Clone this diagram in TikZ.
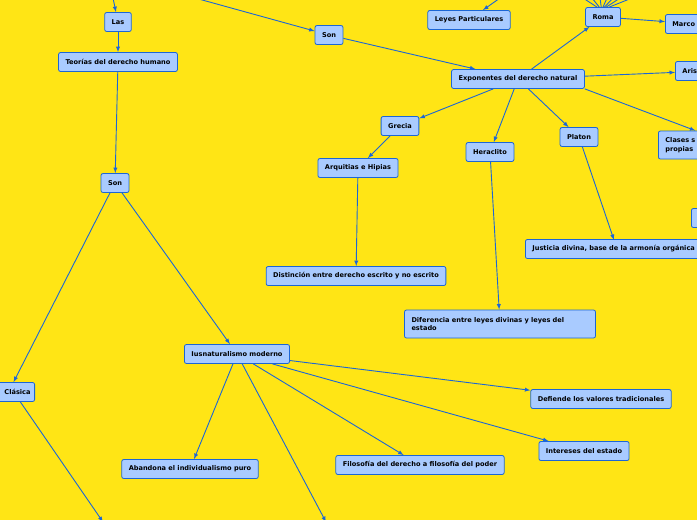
\documentclass[tikz,border=0pt]{standalone}
\usepackage{fontspec}
\setmainfont{DejaVu Sans}
\usetikzlibrary{calc}
\definecolor{bg}{HTML}{FFE515}
\definecolor{bfill}{HTML}{A9CBFF}
\definecolor{bline}{HTML}{1C66D6}
\begin{document}
\begin{tikzpicture}[x=1pt,y=-1pt,
 box/.style={draw=bline,fill=bfill,rounded corners=2pt,line width=0.8pt,font=\bfseries\fontsize{6.6}{8.5}\selectfont,inner xsep=7pt,inner ysep=4pt,minimum height=19pt},
 conn/.style={draw=bline,line width=0.9pt,-latex}]
\useasboundingbox (0,0) rectangle (697,520);
\clip (0,0) rectangle (697,520);
\fill[bg] (0,0) rectangle (697,520);
\node[box] (las) at (118,22) {Las};
\node[box] (teo) at (118,62) {Teorías del derecho humano};
\node[box] (son1) at (329,35) {Son};
\node[box] (leyes) at (469,20) {Leyes Particulares};
\node[box] (roma) at (603,17) {Roma};
\node[box,anchor=west,text width=50pt,align=left] (marco) at (665,24) {Marco};
\node[box] (expo) at (518,79) {Exponentes del derecho natural};
\node[box,anchor=west,text width=50pt,align=left] (aris) at (675,71) {Aris};
\node[box] (grecia) at (400,126) {Grecia};
\node[box] (arq) at (358,168) {Arquitias e Hipias};
\node[box] (hera) at (490,152) {Heraclito};
\node[box] (platon) at (579,137) {Platon};
\node[box,anchor=west,align=left,text width=60pt,minimum height=28pt] (clases) at (658,145) {Clases s\\propias};
\node[box,anchor=west,minimum width=30pt] (extra) at (691,218) {};
\node[box,anchor=west] (just) at (525,249) {Justicia divina, base de la armonía orgánica};
\node[box] (dist) at (356,276) {Distinción entre derecho escrito y no escrito};
\node[box,align=left,text width=177pt,minimum height=28pt] (dif) at (500,324) {Diferencia entre leyes divinas y leyes del\\estado};
\node[box] (son2) at (115,183) {Son};
\node[box] (ius) at (237,354) {Iusnaturalismo moderno};
\node[box,anchor=east,inner xsep=4pt] (clas) at (35,392) {\hspace{8pt}Clásica};
\node[box] (def) at (601,399) {Defiende los valores tradicionales};
\node[box] (int) at (584,451) {Intereses del estado};
\node[box] (filo) at (420,465) {Filosofía del derecho a filosofía del poder};
\node[box] (aban) at (190,469) {Abandona el individualismo puro};
\coordinate (t1) at (113,-2); \coordinate (t2) at (195,-2); \coordinate (t3) at (500,-2);
\coordinate (b1) at (103,522); \coordinate (b2) at (326,522);
\draw[conn] (t1) -- (las);
\draw[conn] (t2) -- (son1);
\draw[conn] (t3) -- (leyes);
\draw[conn] (las) -- (teo);
\draw[conn] (teo) -- (son2);
\draw[conn] (son1) -- (expo);
\foreach \x in {583,592,600,607,613,620,632} \draw[bline,line width=0.9pt] (\x,-2) -- ($(roma.north)+(\x/4-151.75,0)$);
\draw[conn] (expo) -- (roma);
\draw[conn] (roma) -- (marco);
\draw[conn] (expo) -- (aris);
\draw[conn] (expo) -- (grecia);
\draw[conn] (expo) -- (hera);
\draw[conn] (expo) -- (platon);
\draw[conn] (expo.south east) -- (clases.north);
\draw[conn] (grecia) -- (arq);
\draw[conn] (arq) -- (dist);
\draw[conn] (hera) -- (dif);
\draw[conn] (platon) -- (614,240);
\draw[conn] (son2) -- (ius);
\draw[conn] (son2) -- (clas.north);
\draw[conn] (clas) -- (b1);
\draw[conn] (ius) -- (b2);
\draw[conn] (ius) -- (aban);
\draw[conn] (ius) -- (filo);
\draw[conn] (ius) -- (int);
\draw[conn] (ius) -- (def);
\end{tikzpicture}
\end{document}
